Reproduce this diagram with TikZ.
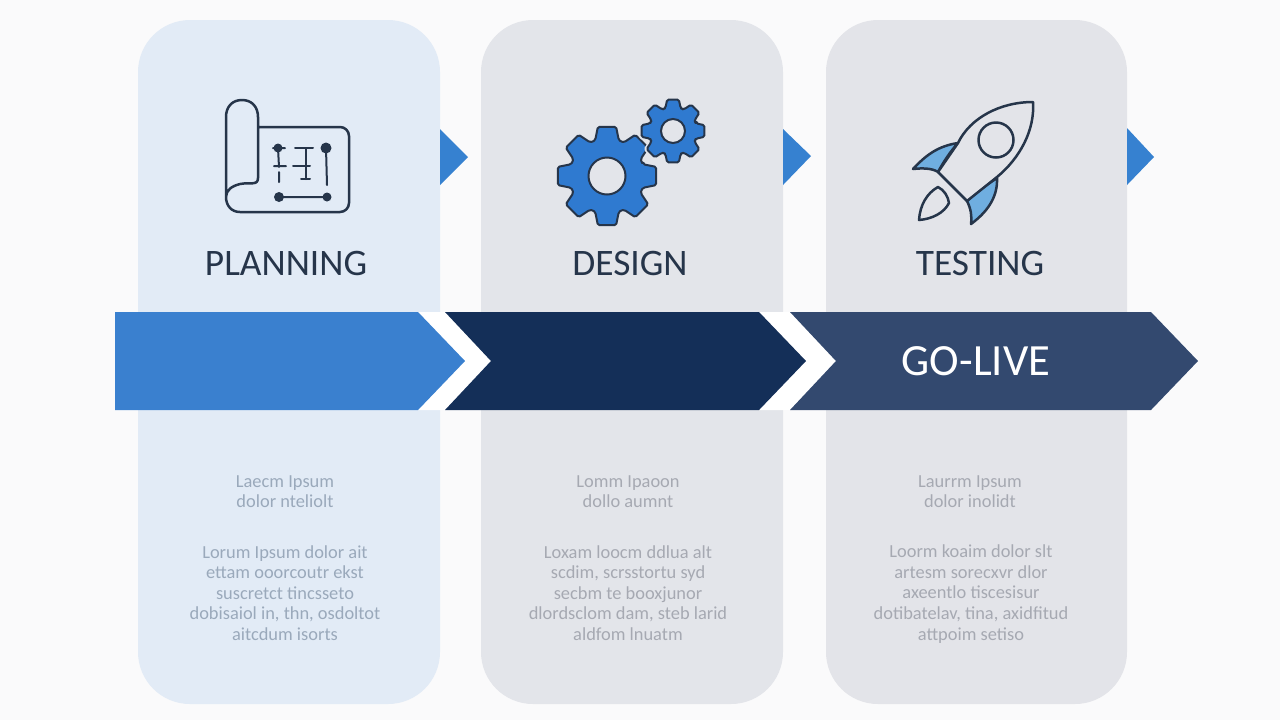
\documentclass[tikz,border=0pt]{standalone}
\usepackage{fontspec}
\setmainfont{Carlito}
\definecolor{bgc}{HTML}{FAFAFB}
\definecolor{cardA}{HTML}{E2EBF6}
\definecolor{cardB}{HTML}{E3E5EA}
\definecolor{cardC}{HTML}{E3E4E9}
\definecolor{chevA}{HTML}{3A80CF}
\definecolor{chevB}{HTML}{142F58}
\definecolor{chevC}{HTML}{33496F}
\definecolor{triC}{HTML}{3681D0}
\definecolor{gearC}{HTML}{2F7AD0}
\definecolor{inkC}{HTML}{26354A}
\definecolor{finC}{HTML}{6FAEE0}
\definecolor{bodyA}{HTML}{9AA9BB}
\definecolor{bodyB}{HTML}{A6A9B2}
\tikzset{
  cardbox/.style={rounded corners=26pt,draw=none},
  tri/.style={fill=triC,draw=none},
  chev/.style={draw=none},
  gapc/.style={fill=white,draw=none},
  icon/.style={draw=inkC,line width=1.25pt,line join=round,line cap=round},
  thin icon/.style={draw=inkC,line width=1pt,line cap=round},
  gearstyle/.style={fill=gearC,draw=inkC,line width=1pt,line join=round,rounded corners=0.8pt},
  heading/.style={text=inkC,font=\fontsize{18.7}{21}\selectfont,inner sep=0pt},
  golive/.style={text=white,font=\fontsize{22.3}{25}\selectfont,inner sep=0pt},
  bodytext/.style={font=\fontsize{9.2}{10.3}\selectfont,align=center,inner sep=0pt},
}
\newcommand{\gearbuild}[2]{%
  \gdef\gearpts{}%
  \foreach \a in {0,45,...,315}{%
    \pgfmathsetmacro{\pa}{\a-18}\pgfmathsetmacro{\pb}{\a-10.5}%
    \pgfmathsetmacro{\pc}{\a+10.5}\pgfmathsetmacro{\pd}{\a+18}\pgfmathsetmacro{\pe}{\a+22.5}%
    \xdef\gearpts{\gearpts -- (\pa:#2) -- (\pb:#1) -- (\pc:#1) -- (\pd:#2) -- (\pe:#2-1)}%
  }%
}
\begin{document}
\begin{tikzpicture}[x=0.5pt,y=-0.5pt]
\useasboundingbox (0,0) rectangle (1280,720);
\fill[bgc] (0,0) rectangle (1280,720);
% cards
\fill[cardbox,cardA] (138,20) rectangle (440,704);
\fill[cardbox,cardB] (481,20) rectangle (783,704);
\fill[cardbox,cardC] (826,20) rectangle (1127,704);
% small triangles
\path[tri] (440,129) -- (468,157) -- (440,185) -- cycle;
\path[tri] (783,129) -- (811,156) -- (783,185) -- cycle;
\path[tri] (1127,128) -- (1154,157) -- (1127,185) -- cycle;
% chevron band
\path[gapc] (418,312) -- (445,312) -- (491,361) -- (445,410) -- (418,410) -- (465,361) -- cycle;
\path[gapc] (759,312) -- (790,312) -- (836,361) -- (790,410) -- (759,410) -- (806,361) -- cycle;
\path[chev,fill=chevA] (115,312) -- (418,312) -- (465,361) -- (418,410) -- (115,410) -- cycle;
\path[chev,fill=chevB] (445,312) -- (759,312) -- (806,361) -- (759,410) -- (445,410) -- (491,361) -- cycle;
\path[chev,fill=chevC] (790,312) -- (1151,312) -- (1198,361) -- (1151,410) -- (790,410) -- (836,361) -- cycle;
% blueprint icon
\draw[icon] (258,127) -- (340,127) arc[start angle=-90,end angle=0,radius=9] -- (349,203) arc[start angle=0,end angle=90,radius=9] -- (240,212)
  .. controls (231,212) and (226,205) .. (226,197) -- (226,117)
  .. controls (226,107) and (232,100) .. (242,100) .. controls (252,100) and (258,107) .. (258,117) -- (258,178)
  .. controls (258,186) and (250,182) .. (240,184) .. controls (232,186) and (226,190) .. (226,197);
\draw[thin icon] (278,148) -- (279,167) (273,148) -- (285,148) (274,166) -- (286,166) (279,172) -- (279,182);
\draw[thin icon] (295,148) -- (313,148) (306,148) -- (306,179) (293,166) -- (310,166) (301,179) -- (310,179);
\draw[thin icon] (326,148) -- (327,185) (279,197) -- (327,197);
\fill[inkC] (278,148) circle (4.5) (326,148) circle (5.5) (279,197) circle (5) (327,197) circle (4.5);
% gears
\gearbuild{50}{38}
\begin{scope}[shift={(607,176)}]
\draw[gearstyle] (-18:38) \gearpts -- cycle;
\draw[fill=cardB,draw=inkC,line width=1pt] (0,0) circle (18.5);
\end{scope}
\gearbuild{32}{24.5}
\begin{scope}[shift={(673,131)}]
\draw[cardB,line width=2.5pt,line join=round] (-18:24.5) \gearpts -- cycle;
\draw[gearstyle] (-18:24.5) \gearpts -- cycle;
\draw[fill=cardB,draw=inkC,line width=1pt] (0,0) circle (12);
\end{scope}
% rocket
\draw[icon,fill=finC] (958,143) .. controls (938,146) and (926,155) .. (913,169) .. controls (922,168) and (932,168) .. (938,172) .. controls (944,161) and (950,152) .. (958,143) -- cycle;
\draw[icon,fill=finC] (997,178) .. controls (985,186) and (975,193) .. (967,201) .. controls (971,209) and (972,216) .. (971,224) .. controls (986,213) and (998,198) .. (997,178) -- cycle;
\draw[icon,fill=cardC] (1033,102) .. controls (1000,102) and (970,118) .. (958,143) -- (938,172) -- (967,201) -- (997,177) .. controls (1020,158) and (1035,130) .. (1033,102) -- cycle;
\draw[icon] (996,140) circle (17.5);
\draw[icon] (938,187) .. controls (927,193) and (920,205) .. (919,220) .. controls (932,219) and (944,213) .. (949,203) .. controls (948,196) and (944,190) .. (938,187) -- cycle;
% headings
\node[heading] (planning) at (286,263) {PLANNING};
\node[heading] (design) at (630,263) {DESIGN};
\node[heading] (testing) at (980,263) {TESTING};
\node[golive] (live) at (976,361) {GO-LIVE};
% body text
\node[bodytext,text=bodyA] (a1) at (285,491.5) {Laecm Ipsum\\dolor nteliolt};
\node[bodytext,text=bodyA] (a2) at (285,593) {Lorum Ipsum dolor ait\\ettam ooorcoutr ekst\\suscretct tincsseto\\dobisaiol in, thn, osdoltot\\aitcdum isorts};
\node[bodytext,text=bodyB] (b1) at (628,491.5) {Lomm Ipaoon\\dollo aumnt};
\node[bodytext,text=bodyB] (b2) at (628,593) {Loxam loocm ddlua alt\\scdim, scrsstortu syd\\secbm te booxjunor\\dlordsclom dam, steb larid\\aldfom lnuatm};
\node[bodytext,text=bodyB] (c1) at (970,491.5) {Laurrm Ipsum\\dolor inolidt};
\node[bodytext,text=bodyB] (c2) at (971,594) {Loorm koaim dolor slt\\artesm sorecxvr dlor\\axeentlo tiscesisur\\dotibatelav, tina, axidfitud\\attpoim setiso};
\end{tikzpicture}
\end{document}
